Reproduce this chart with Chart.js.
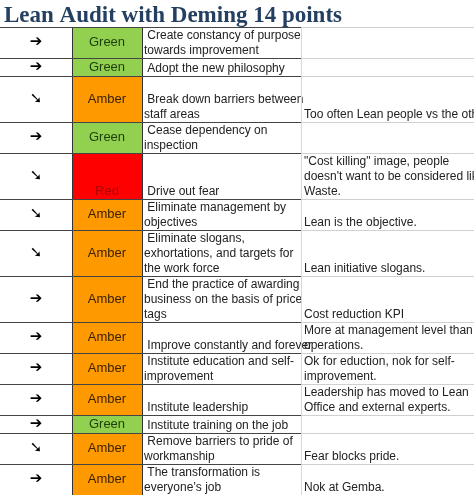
<!DOCTYPE html>
<html>
<head>
<meta charset="utf-8">
<script src="https://cdn.jsdelivr.net/npm/chart.js@4/dist/chart.umd.min.js"></script>
<style>
  html, body { margin: 0; padding: 0; background: #fff; }
  canvas { display: block; }
</style>
</head>
<body>
<canvas id="audit" width="474" height="495"></canvas>
<script>
const chartTitle = 'Lean Audit with Deming 14 points';
const trends = ['right', 'right', 'down', 'right', 'down', 'down', 'down', 'right', 'right', 'right', 'right', 'right', 'down', 'right'];
const statuses = ['Green', 'Green', 'Amber', 'Green', 'Red', 'Amber', 'Amber', 'Amber', 'Amber', 'Amber', 'Amber', 'Green', 'Amber', 'Amber'];
const points = [
    ['Create constancy of purpose', 'towards improvement'],
    ['Adopt the new philosophy'],
    ['Break down barriers between', 'staff areas'],
    ['Cease dependency on', 'inspection'],
    ['Drive out fear'],
    ['Eliminate management by', 'objectives'],
    ['Eliminate slogans,', 'exhortations, and targets for', 'the work force'],
    ['End the practice of awarding', 'business on the basis of price', 'tags'],
    ['Improve constantly and forever'],
    ['Institute education and self-', 'improvement'],
    ['Institute leadership'],
    ['Institute training on the job'],
    ['Remove barriers to pride of', 'workmanship'],
    ['The transformation is', 'everyone\u2019s job']
];
const comments = [
    [],
    [],
    ['Too often Lean people vs the other'],
    [],
    ['"Cost killing" image, people', 'doesn\'t want to be considered like', 'Waste.'],
    ['Lean is the objective.'],
    ['Lean initiative slogans.'],
    ['Cost reduction KPI'],
    ['More at management level than in', 'operations.'],
    ['Ok for eduction, nok for self-', 'improvement.'],
    ['Leadership has moved to Lean', 'Office and external experts.'],
    [],
    ['Fear blocks pride.'],
    ['Nok at Gemba.']
];
const rowLines = [2, 1, 3, 2, 3, 2, 3, 3, 2, 2, 2, 1, 2, 2];

const statusFill = { Green: '#92D050', Amber: '#FF9900', Red: '#FF0000' };
const statusInk = { Green: '#1d3d0a', Amber: '#3a2200', Red: '#b00000' };
const arrowGlyph = { right: '\u2794', down: '\u2798' };

// column edges and row edges in scale units
const colEdges = [0, 72, 142, 301, 474];
const rowEdges = [27];
rowLines.forEach(n => rowEdges.push(rowEdges[rowEdges.length - 1] + n * 15 + (n === 1 ? 3 : 1)));

const tablePlugin = {
    id: 'auditTable',
    afterDraw(chart) {
        const { ctx } = chart;
        const x = chart.scales.x, y = chart.scales.y;
        const X = v => x.getPixelForValue(v);
        const Y = v => y.getPixelForValue(v);
        ctx.save();
        ctx.fillStyle = '#243F60';
        ctx.font = 'bold 23px "Liberation Serif", serif';
        ctx.textBaseline = 'alphabetic';
        ctx.fillText(chartTitle, X(4), Y(22));

        statuses.forEach((s, i) => {
            const top = Y(rowEdges[i]), bot = Y(rowEdges[i + 1]);
            ctx.fillStyle = statusFill[s];
            ctx.fillRect(X(colEdges[1]), top, X(colEdges[2]) - X(colEdges[1]), bot - top);
            const mid = (top + bot) / 2;
            ctx.fillStyle = '#000';
            ctx.font = 'bold 15px "DejaVu Sans", sans-serif';
            ctx.textAlign = 'center';
            ctx.textBaseline = 'middle';
            ctx.fillText(arrowGlyph[trends[i]], X(36), mid);
            ctx.fillStyle = statusInk[s];
            ctx.font = '13px "Liberation Sans", sans-serif';
            ctx.fillText(s, X(107), s === 'Red' ? bot - 8 : mid);
            ctx.textAlign = 'left';
            ctx.textBaseline = 'alphabetic';
            ctx.fillStyle = '#222';
            ctx.font = '12px "Liberation Sans", sans-serif';
            points[i].forEach((t, k) => {
                const n = points[i].length;
                ctx.fillText((k === 0 ? ' ' : '') + t, X(colEdges[2] + 2), bot - 4 - (n - 1 - k) * 15);
            });
            comments[i].forEach((t, k) => {
                const n = comments[i].length;
                ctx.fillText(t, X(colEdges[3] + 3), bot - 4 - (n - 1 - k) * 15);
            });
        });

        ctx.lineWidth = 1;
        ctx.strokeStyle = '#d8d8d8';
        [colEdges[3]].forEach(c => {
            ctx.beginPath(); ctx.moveTo(X(c) + 0.5, Y(rowEdges[0])); ctx.lineTo(X(c) + 0.5, Y(495)); ctx.stroke();
        });
        ctx.strokeStyle = '#333';
        [colEdges[1], colEdges[2]].forEach(c => {
            ctx.beginPath(); ctx.moveTo(X(c) + 0.5, Y(rowEdges[0])); ctx.lineTo(X(c) + 0.5, Y(495)); ctx.stroke();
        });
        rowEdges.forEach(r => {
            ctx.strokeStyle = '#444';
            ctx.beginPath(); ctx.moveTo(X(0), Y(r) + 0.5); ctx.lineTo(X(colEdges[3]), Y(r) + 0.5); ctx.stroke();
            ctx.strokeStyle = '#d0d0d0';
            ctx.beginPath(); ctx.moveTo(X(colEdges[3]), Y(r) + 0.5); ctx.lineTo(X(474), Y(r) + 0.5); ctx.stroke();
        });
        ctx.restore();
    }
};

new Chart(document.getElementById('audit'), {
    type: 'scatter',
    data: { datasets: [{ data: [] }] },
    options: {
        responsive: false,
        animation: false,
        layout: { padding: 0 },
        plugins: { legend: { display: false }, tooltip: { enabled: false } },
        scales: {
            x: { type: 'linear', min: 0, max: 474, display: false },
            y: { type: 'linear', min: 0, max: 495, reverse: true, display: false }
        }
    },
    plugins: [tablePlugin]
});
</script>
</body>
</html>
